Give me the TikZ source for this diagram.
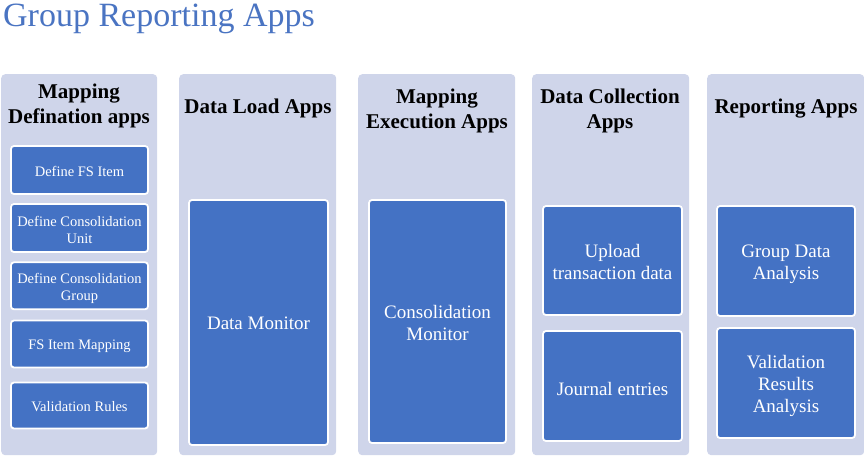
\documentclass[tikz,border=0pt]{standalone}
\usepackage{fontspec}
\setmainfont{Liberation Serif}
\definecolor{colbg}{HTML}{CFD5EA}
\definecolor{itemblue}{HTML}{4472C4}
\definecolor{titleblue}{HTML}{4A74C2}
\begin{document}
\begin{tikzpicture}[x=1pt,y=-1pt,
  col/.style={fill=colbg, rounded corners=4pt, inner sep=0pt, anchor=north west},
  head/.style={font=\fontsize{21}{25}\selectfont\bfseries, align=center, text=black, inner sep=0pt},
  item/.style={fill=itemblue, draw=white, line width=1.8pt, rounded corners=3pt, inner sep=0pt},
  itemtext/.style={text=white, align=center, inner sep=0pt},
  small/.style={itemtext, font=\fontsize{14.5}{17}\selectfont},
  big/.style={itemtext, font=\fontsize{19}{22}\selectfont}]
\useasboundingbox (0,0) rectangle (864,455);
\node[anchor=base west, text=titleblue, font=\fontsize{34}{40}\selectfont, inner sep=0pt] (title) at (3,26.7) {Group Reporting Apps};
% columns
\node[col, minimum width=156pt, minimum height=381pt] (c1) at (1,74) {};
\node[col, minimum width=157pt, minimum height=381pt] (c2) at (179,74) {};
\node[col, minimum width=157pt, minimum height=381pt] (c3) at (358,74) {};
\node[col, minimum width=157pt, minimum height=381pt] (c4) at (532,74) {};
\node[col, minimum width=157pt, minimum height=381pt] (c5) at (707,74) {};
% headers
\node[head] (h1) at (79,106) {Mapping\\Defination apps};
\node[head] (h2) at (258,108.5) {Data Load Apps};
\node[head] (h3) at (437,111) {Mapping\\Execution Apps};
\node[head] (h4) at (610,111) {Data Collection\\Apps};
\node[head] (h5) at (786,108.5) {Reporting Apps};
% column 1 items
\node[item, minimum width=137pt, minimum height=48pt, label={[small, yshift=-1pt]center:Define FS Item}] (i11) at (79.5,170) {};
\node[item, minimum width=137pt, minimum height=48pt, label={[small, yshift=-1.5pt]center:Define Consolidation\\Unit}] (i12) at (79.5,228) {};
\node[item, minimum width=137pt, minimum height=47pt, label={[small, yshift=-2.4pt]center:Define Consolidation\\Group}] (i13) at (79.5,285.8) {};
\node[item, minimum width=137pt, minimum height=47pt, label={[small, yshift=-2.4pt]center:FS Item Mapping}] (i14) at (79.5,344) {};
\node[item, minimum width=137pt, minimum height=46pt, label={[small, yshift=-1pt]center:Validation Rules}] (i15) at (79.5,405.5) {};
% column 2
\node[item, minimum width=139pt, minimum height=245pt, label={[big, yshift=-0.5pt]center:Data Monitor}] (i21) at (258.5,322.5) {};
% column 3
\node[item, minimum width=137pt, minimum height=243pt, label={[big, yshift=-1.8pt]center:Consolidation\\Monitor}] (i31) at (437.5,321.5) {};
% column 4
\node[item, minimum width=139pt, minimum height=109pt, label={[big, yshift=-1.8pt]center:Upload\\transaction data}] (i41) at (612.5,260.5) {};
\node[item, minimum width=139pt, minimum height=110pt, label={[big, yshift=-2.6pt]center:Journal entries}] (i42) at (612.5,386) {};
% column 5
\node[item, minimum width=138pt, minimum height=110pt, label={[big, yshift=-3.3pt]center:Group Data\\Analysis}] (i51) at (786,261) {};
\node[item, minimum width=138pt, minimum height=110pt, label={[big, yshift=-3.1pt]center:Validation\\Results\\Analysis}] (i52) at (786,383) {};
\end{tikzpicture}
\end{document}
